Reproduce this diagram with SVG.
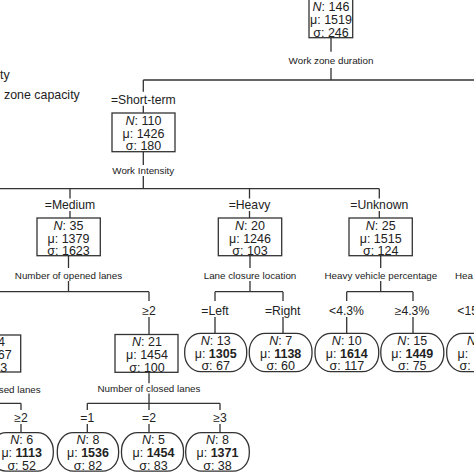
<svg xmlns="http://www.w3.org/2000/svg" width="474" height="474" viewBox="0 0 474 474">
<style>
text{font-family:"Liberation Sans",Arial,Helvetica,sans-serif;fill:#222}
.n{font-size:12.5px;text-anchor:middle}
.b{font-size:12.2px;text-anchor:middle}
.s{font-size:9.8px;text-anchor:middle}
.lg{font-size:12.4px}
.box{fill:#fff;stroke:#333;stroke-width:1.3}
.c{fill:none;stroke:#333;stroke-width:1.3}
i,.it{font-style:italic}
.bd{font-weight:bold}
</style>
<rect width="474" height="474" fill="#fff"/>
<g id="connectors">
<path class="c" d="M331 37.7V51.7M331 68V80M143.3 80H474M143.3 80V91.7M143.3 105.7V113M143.3 151.7V165M143.3 176V188.7M0 188.7H379.3M70 188.7V198.5M249.5 188.7V198.5M379.3 188.7V198.5M70 211V218M249.5 211V218M379.3 211V218"/>
<path class="c" d="M68.5 255.7V268M68.5 281V291.7M0 291.7H149M149 291.7V301M149 317V334.5"/>
<path class="c" d="M250 255.7V268M250 281V291.7M215 291.7H283M215 291.7V301M283 291.7V301M215 317V333.3M283 317V333.3"/>
<path class="c" d="M380.7 255.7V268M380.7 281V291.7M346.7 291.7H413M346.7 291.7V301M413 291.7V301M346.7 317V333.3M413 317V333.3"/>
<path class="c" d="M149 372.3V383.3M149 393.5V403.3M87.3 403.3H220M87.3 403.3V410M149 403.3V410M220 403.3V410M87.3 424V432.7M149 424V432.7M220 424V432.7"/>
<path class="c" d="M0 403.3H21M21 403.3V410M21 424V432.7"/>
</g>
<g id="labels">
<text class="s" x="331" y="63.5">Work zone duration</text>
<text class="b" x="143.3" y="103.5">=Short-term</text>
<text class="s" x="143.3" y="173.5">Work Intensity</text>
<text class="b" x="70" y="209.4">=Medium</text>
<text class="b" x="249.5" y="209.4">=Heavy</text>
<text class="b" x="379.3" y="209.4">=Unknown</text>
<text class="s" x="68.5" y="278.5">Number of opened lanes</text>
<text class="s" x="250" y="278.5">Lane closure location</text>
<text class="s" x="380.9" y="278.5">Heavy vehicle percentage</text>
<text class="s" x="455" y="278.5" style="text-anchor:start">Hea</text>
<text class="b" x="149" y="315.4">≥2</text>
<text class="b" x="215" y="315.4">=Left</text>
<text class="b" x="282.7" y="315.4">=Right</text>
<text class="b" x="346.5" y="315.4">&lt;4.3%</text>
<text class="b" x="412" y="315.4">≥4.3%</text>
<text class="b" x="457.3" y="315.4" style="text-anchor:start">&lt;15</text>
<text class="s" x="149" y="391.5">Number of closed lanes</text>
<text class="s" x="40.7" y="392.5" style="text-anchor:end">sed lanes</text>
<text class="b" x="21" y="422">≥2</text>
<text class="b" x="87.3" y="422">=1</text>
<text class="b" x="149" y="422">=2</text>
<text class="b" x="220" y="422">≥3</text>
<text class="lg" x="0" y="78.5">ty</text>
<text class="lg" x="4" y="99">zone capacity</text>
</g>
<g id="node-root">
<rect class="box" x="309" y="-2" width="43.7" height="39.7"/>
<text class="n" x="331" y="11"><tspan class="it">N</tspan>: 146</text>
<text class="n" x="331" y="24">μ: 1519</text>
<text class="n" x="331" y="37">σ: 246</text>
</g>
<g id="node-short">
<rect class="box" x="112" y="113" width="63" height="38.7"/>
<text class="n" x="143.5" y="124.5"><tspan class="it">N</tspan>: 110</text>
<text class="n" x="143.5" y="137.5">μ: 1426</text>
<text class="n" x="143.5" y="150">σ: 180</text>
</g>
<g id="node-medium">
<rect class="box" x="37" y="218" width="63.3" height="37.7"/>
<text class="n" x="68.5" y="229.5"><tspan class="it">N</tspan>: 35</text>
<text class="n" x="68.5" y="242.5">μ: 1379</text>
<text class="n" x="68.5" y="255">σ: 1623</text>
</g>
<g id="node-heavy">
<rect class="box" x="218.3" y="218" width="63.4" height="37.7"/>
<text class="n" x="250" y="229.5"><tspan class="it">N</tspan>: 20</text>
<text class="n" x="250" y="242.5">μ: 1246</text>
<text class="n" x="250" y="255">σ: 103</text>
</g>
<g id="node-unknown">
<rect class="box" x="349" y="218" width="63.3" height="37.7"/>
<text class="n" x="380.7" y="229.5"><tspan class="it">N</tspan>: 25</text>
<text class="n" x="380.7" y="242.5">μ: 1515</text>
<text class="n" x="380.7" y="255">σ: 124</text>
</g>
<g id="node-left-cut">
<rect class="box" x="-42.5" y="335" width="63.2" height="37"/>
<text class="n" x="5" y="346" style="text-anchor:end">4</text>
<text class="n" x="11.7" y="359" style="text-anchor:end">67</text>
<text class="n" x="7.3" y="371.5" style="text-anchor:end">3</text>
</g>
<g id="node-21">
<rect class="box" x="115" y="334.5" width="63" height="37.8"/>
<text class="n" x="147" y="346"><tspan class="it">N</tspan>: 21</text>
<text class="n" x="147" y="359">μ: 1454</text>
<text class="n" x="147" y="371.5">σ: 100</text>
</g>
<g id="leaf-13">
<rect class="box" x="184.7" y="333.3" width="62" height="38.4" rx="16" ry="18"/>
<text class="n" x="215.7" y="344.8"><tspan class="it">N</tspan>: 13</text>
<text class="n" x="215.7" y="357.8">μ: <tspan class="bd">1305</tspan></text>
<text class="n" x="215.7" y="370.3">σ: 67</text>
</g>
<g id="leaf-7">
<rect class="box" x="249.3" y="333.3" width="62.7" height="38.4" rx="16" ry="18"/>
<text class="n" x="280.7" y="344.8"><tspan class="it">N</tspan>: 7</text>
<text class="n" x="280.7" y="357.8">μ: <tspan class="bd">1138</tspan></text>
<text class="n" x="280.7" y="370.3">σ: 60</text>
</g>
<g id="leaf-10">
<rect class="box" x="315" y="333.3" width="63.7" height="38.4" rx="16" ry="18"/>
<text class="n" x="346.8" y="344.8"><tspan class="it">N</tspan>: 10</text>
<text class="n" x="346.8" y="357.8">μ: <tspan class="bd">1614</tspan></text>
<text class="n" x="346.8" y="370.3">σ: 117</text>
</g>
<g id="leaf-15">
<rect class="box" x="380.8" y="333.3" width="63" height="38.4" rx="16" ry="18"/>
<text class="n" x="412.3" y="344.8"><tspan class="it">N</tspan>: 15</text>
<text class="n" x="412.3" y="357.8">μ: <tspan class="bd">1449</tspan></text>
<text class="n" x="412.3" y="370.3">σ: 75</text>
</g>
<g id="leaf-right-cut">
<rect class="box" x="446.7" y="333.3" width="63" height="38.4" rx="16" ry="18"/>
<text class="n it" x="467" y="344.8" style="text-anchor:start">N</text>
<text class="n" x="457.5" y="357.8" style="text-anchor:start">μ:</text>
<text class="n" x="459.5" y="370.3" style="text-anchor:start">σ:</text>
</g>
<g id="leaf-6">
<rect class="box" x="-9.7" y="432.7" width="63" height="38.5" rx="16" ry="18"/>
<text class="n" x="21.7" y="444.2"><tspan class="it">N</tspan>: 6</text>
<text class="n" x="21.7" y="457.2">μ: <tspan class="bd">1113</tspan></text>
<text class="n" x="21.7" y="469.7">σ: 52</text>
</g>
<g id="leaf-8a">
<rect class="box" x="57.3" y="432.7" width="61.3" height="38.5" rx="16" ry="18"/>
<text class="n" x="88" y="444.2"><tspan class="it">N</tspan>: 8</text>
<text class="n" x="88" y="457.2">μ: <tspan class="bd">1536</tspan></text>
<text class="n" x="88" y="469.7">σ: 82</text>
</g>
<g id="leaf-5">
<rect class="box" x="121.5" y="432.7" width="62" height="38.5" rx="16" ry="18"/>
<text class="n" x="153.5" y="444.2"><tspan class="it">N</tspan>: 5</text>
<text class="n" x="153.5" y="457.2">μ: <tspan class="bd">1454</tspan></text>
<text class="n" x="153.5" y="469.7">σ: 83</text>
</g>
<g id="leaf-8b">
<rect class="box" x="185.7" y="432.7" width="63.6" height="38.5" rx="16" ry="18"/>
<text class="n" x="217.5" y="444.2"><tspan class="it">N</tspan>: 8</text>
<text class="n" x="217.5" y="457.2">μ: <tspan class="bd">1371</tspan></text>
<text class="n" x="217.5" y="469.7">σ: 38</text>
</g>
</svg>
